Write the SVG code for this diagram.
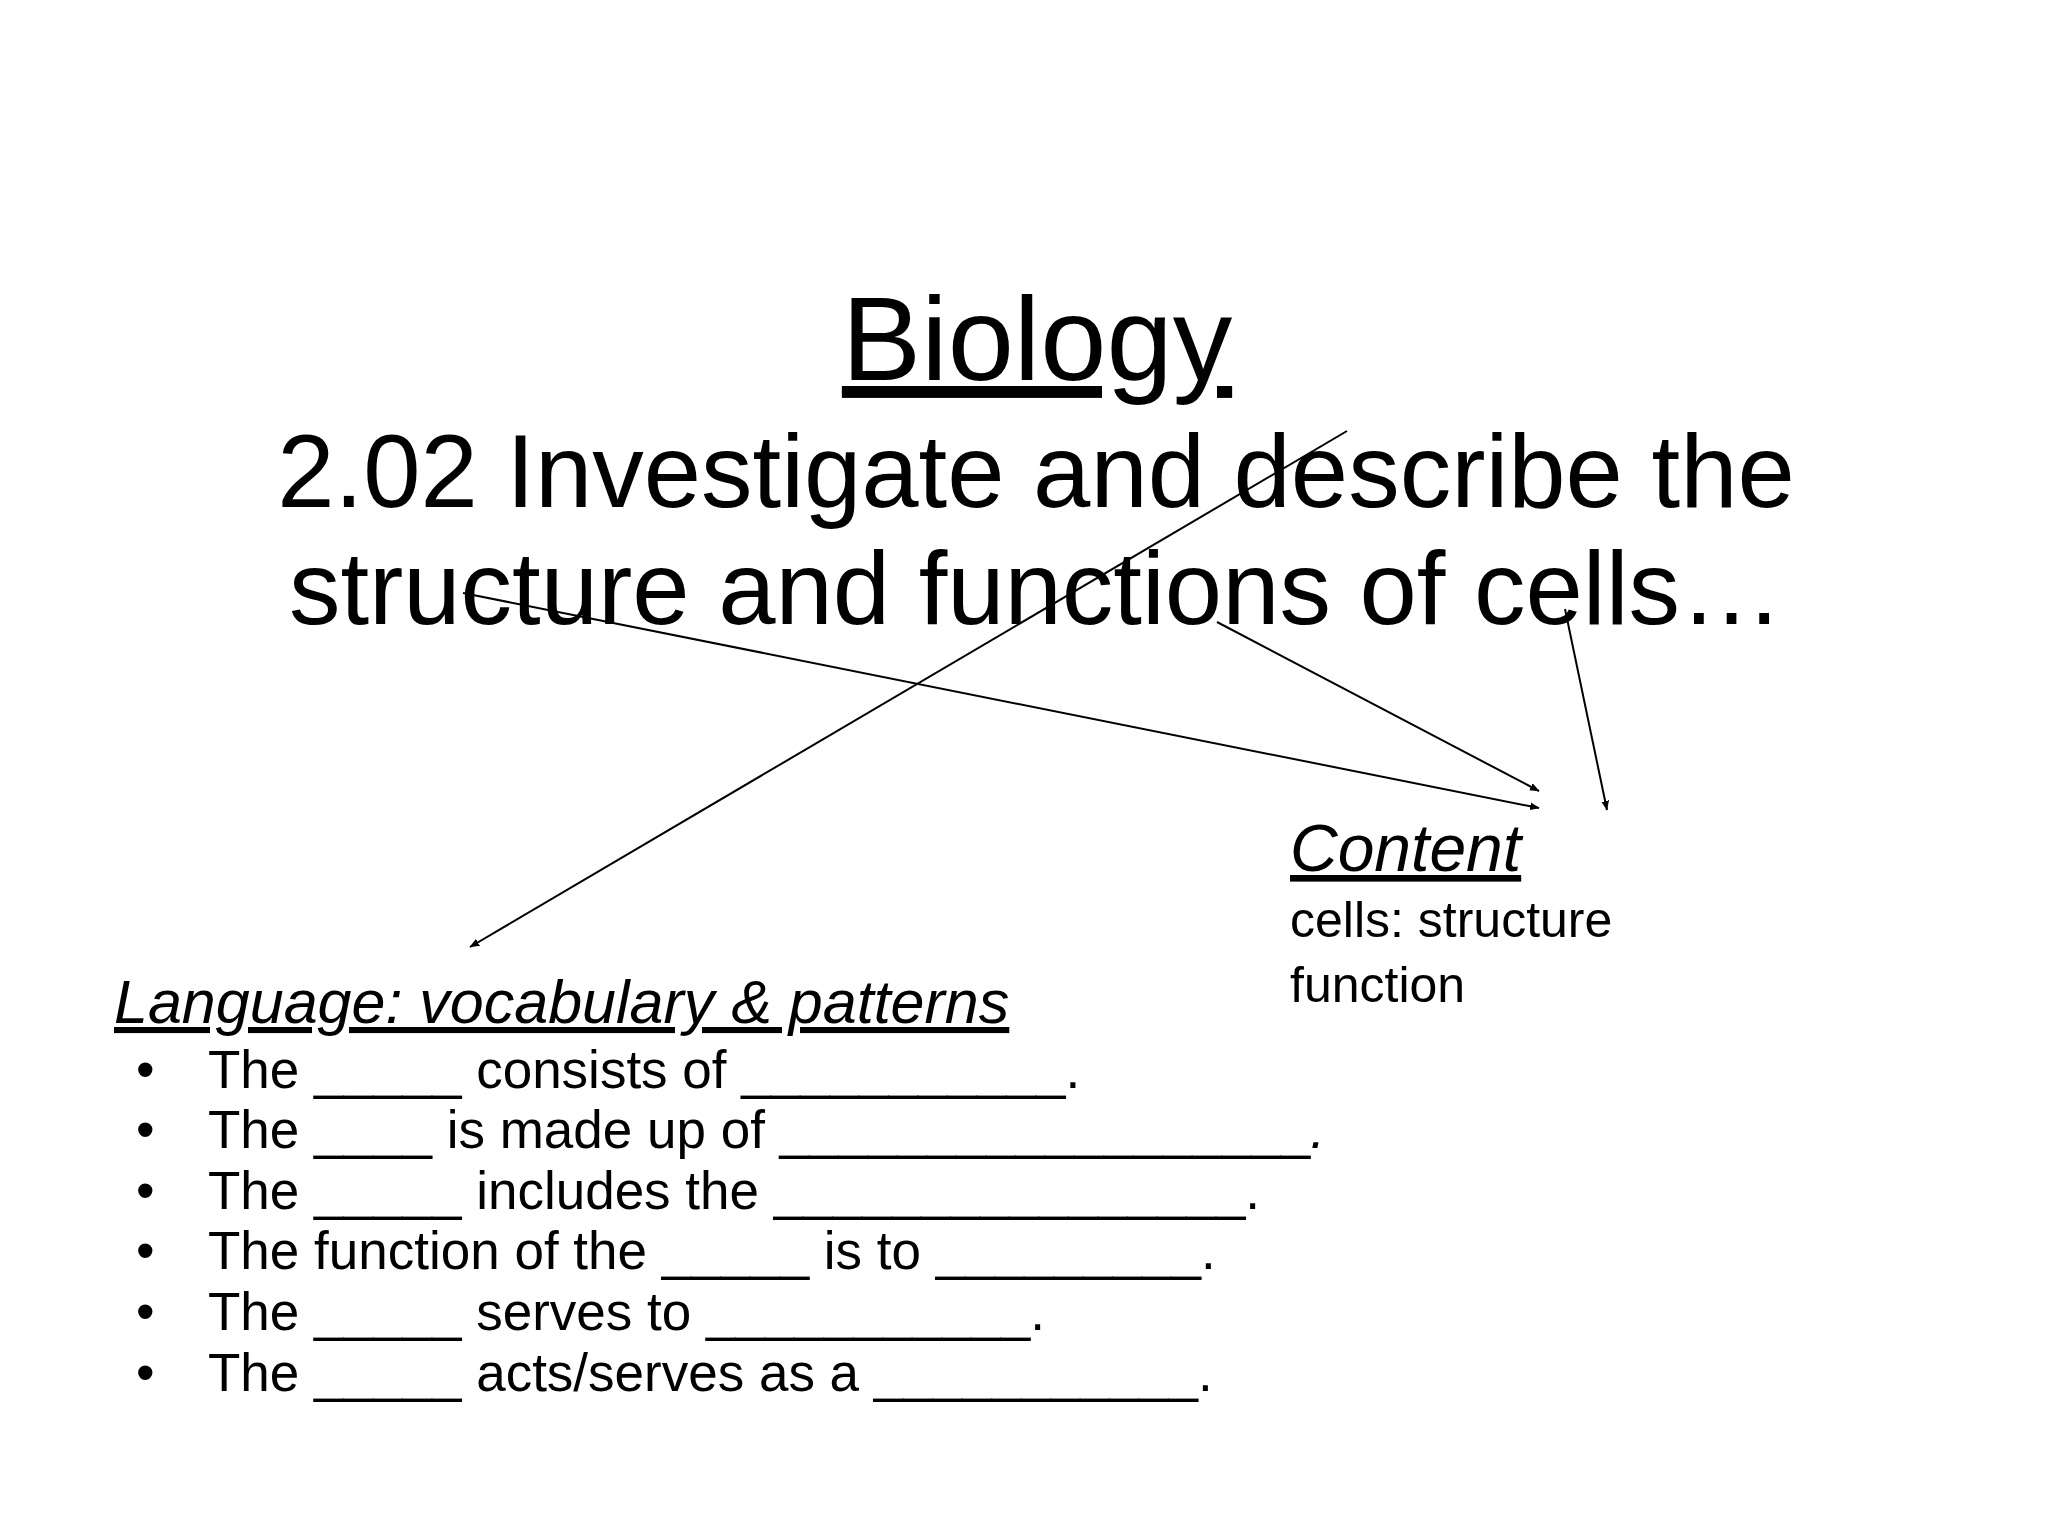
<svg xmlns="http://www.w3.org/2000/svg" width="2048" height="1536" viewBox="0 0 2048 1536">
<style>
text{font-family:"Liberation Sans",Arial,sans-serif;fill:#000}
.t{font-size:103px;text-anchor:middle}
.b{font-size:53px}
.c{stroke:#000;stroke-width:2;fill:none;marker-end:url(#ah)}
</style>
<defs><marker id="ah" markerWidth="10" markerHeight="8" refX="9" refY="4" orient="auto" markerUnits="userSpaceOnUse"><path d="M0,0 L10,4 L0,8 Z" fill="#000" transform="scale(1.6) translate(-4,-1.5)"/></marker></defs>
<rect width="2048" height="1536" fill="#fff"/>
<g id="title">
<text x="1037" y="380" style="font-size:119px;text-anchor:middle;text-decoration:underline">Biology</text>
<text class="t" x="1036" y="507">2.02 Investigate and describe the</text>
<text class="t" x="1036" y="624">structure and functions of cells…</text>
</g>
<g id="connectors">
<line class="c" x1="1347" y1="431" x2="470" y2="947"/>
<line class="c" x1="463" y1="593" x2="1539" y2="808"/>
<line class="c" x1="1217" y1="622" x2="1539" y2="791"/>
<line class="c" x1="1565" y1="609" x2="1607" y2="810"/>
</g>
<g id="content">
<text x="1290" y="871" style="font-size:66px;font-style:italic;text-decoration:underline">Content</text>
<text x="1290" y="937" style="font-size:50px">cells: structure</text>
<text x="1290" y="1002" style="font-size:50px">function</text>
</g>
<g id="language">
<text x="114" y="1023" style="font-size:61px;font-style:italic;text-decoration:underline">Language: vocabulary &amp; patterns</text>
<text class="b" x="136" y="1088">•</text><text class="b" x="208" y="1088">The _____ consists of ___________.</text>
<text class="b" x="136" y="1148">•</text><text class="b" x="208" y="1148">The ____ is made up of __________________<tspan font-style="italic">.</tspan></text>
<text class="b" x="136" y="1209">•</text><text class="b" x="208" y="1209">The _____ includes the ________________.</text>
<text class="b" x="136" y="1269">•</text><text class="b" x="208" y="1269">The function of the _____ is to _________.</text>
<text class="b" x="136" y="1330">•</text><text class="b" x="208" y="1330">The _____ serves to ___________.</text>
<text class="b" x="136" y="1391">•</text><text class="b" x="208" y="1391">The _____ acts/serves as a ___________.</text>
</g>
</svg>
